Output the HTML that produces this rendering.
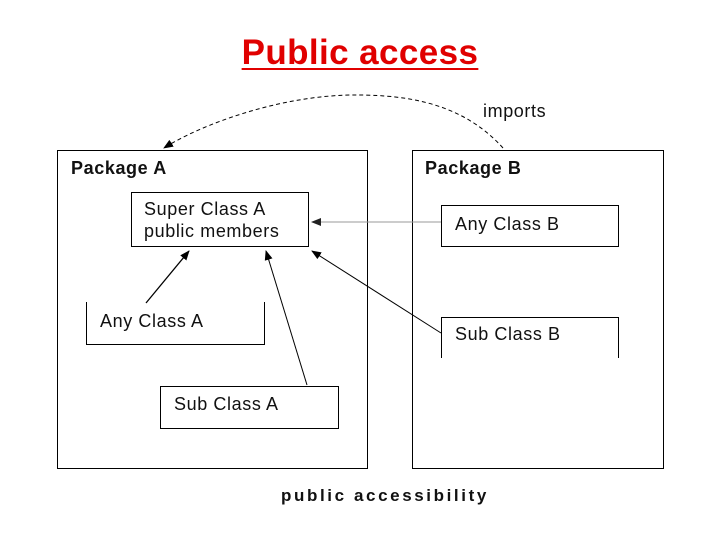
<!DOCTYPE html>
<html><head><style>
html,body{margin:0;padding:0;background:#fff;}
body{width:720px;height:540px;position:relative;overflow:hidden;font-family:"Liberation Sans",sans-serif;}
.t{position:absolute;left:0;width:720px;top:33px;text-align:center;font-size:35px;font-weight:bold;color:#e00000;letter-spacing:0.4px;}
.t span{text-decoration:underline;text-decoration-thickness:2px;text-underline-offset:4px;}
</style></head><body>
<div class="t"><span>Public access</span></div>
<svg width="720" height="540" style="position:absolute;left:0;top:0" font-family="Liberation Sans, sans-serif">
<defs><marker id="a" markerWidth="10" markerHeight="8" refX="9" refY="4" orient="auto" markerUnits="userSpaceOnUse"><path d="M0,0 L10,4 L0,8z" fill="#000"/></marker>
<marker id="g" markerWidth="10" markerHeight="8" refX="9" refY="4" orient="auto" markerUnits="userSpaceOnUse"><path d="M0,0 L10,4 L0,8z" fill="#222"/></marker></defs>
<g fill="none" stroke="#000" stroke-width="1">
<rect x="57.5" y="150.5" width="310" height="318"/>
<rect x="412.5" y="150.5" width="251" height="318"/>
<rect x="131.5" y="192.5" width="177" height="54"/>
<rect x="441.5" y="205.5" width="177" height="41"/>
<path d="M441.5,358 V317.5 H618.5 V358"/>
<path d="M86.5,302 V344.5 H264.5 V302"/>
<rect x="160.5" y="386.5" width="178" height="42"/>
<path d="M146,303 L189,251" stroke-width="1.3" marker-end="url(#a)"/>
<path d="M307,385 L266,251" marker-end="url(#a)"/>
<path d="M441,333 L312,251" marker-end="url(#a)"/>
<path d="M441,222 L312,222" stroke="#999" marker-end="url(#g)"/>
<path d="M503,148 C460,100 400,95 355,95 C280,95 200,125 164,148" stroke-dasharray="4,3" marker-end="url(#a)"/>
</g>
<g font-size="18" fill="#111" letter-spacing="0.6">
<text x="71" y="174" font-weight="bold">Package A</text>
<text x="425" y="174" font-weight="bold">Package B</text>
<text x="144" y="215">Super Class A</text>
<text x="144" y="237">public members</text>
<text x="455" y="230">Any Class B</text>
<text x="455" y="340">Sub Class B</text>
<text x="100" y="327">Any Class A</text>
<text x="174" y="410">Sub Class A</text>
<text x="483" y="117">imports</text>
</g>
<text x="281" y="501" font-size="17" font-weight="bold" fill="#111" letter-spacing="2.6">public accessibility</text>
</svg>
</body></html>
